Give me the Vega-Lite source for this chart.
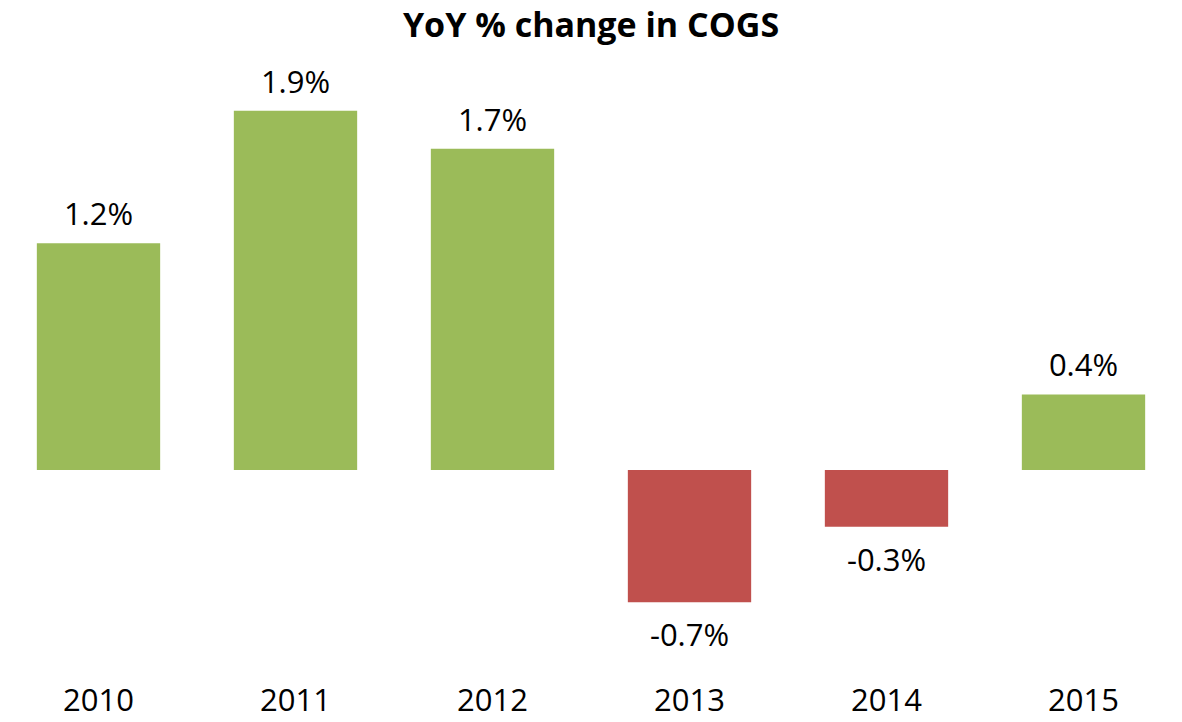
{
  "$schema": "https://vega.github.io/schema/vega-lite/v6.json",
  "description": "YoY % change in COGS, 2010-2015",
  "width": 1182,
  "height": 620,
  "autosize": {"type": "none"},
  "padding": {"top": 60, "left": 0, "right": 0, "bottom": 42},
  "title": {
    "text": "YoY % change in COGS",
    "font": "Open Sans",
    "fontSize": 34,
    "fontWeight": "bold",
    "color": "#000000",
    "anchor": "middle",
    "baseline": "alphabetic",
    "offset": -11
  },
  "data": {
    "values": [
      {"year": "2010", "v": 0.012},
      {"year": "2011", "v": 0.019},
      {"year": "2012", "v": 0.017},
      {"year": "2013", "v": -0.007},
      {"year": "2014", "v": -0.003},
      {"year": "2015", "v": 0.004}
    ]
  },
  "encoding": {
    "x": {
      "field": "year",
      "type": "ordinal",
      "title": null,
      "scale": {"paddingInner": 0.374, "paddingOuter": 0.187},
      "axis": {
        "domain": false,
        "ticks": false,
        "labelAngle": 0,
        "labelFont": "Open Sans",
        "labelFontSize": 31,
        "labelColor": "#000000",
        "labelPadding": 6
      }
    }
  },
  "layer": [
    {
      "mark": {"type": "bar"},
      "encoding": {
        "y": {
          "field": "v",
          "type": "quantitative",
          "scale": {"domain": [-0.01111, 0.02169], "nice": false, "zero": true},
          "axis": null
        },
        "color": {
          "condition": {"test": "datum.v < 0", "value": "#C0504D"},
          "value": "#9BBB59"
        }
      }
    },
    {
      "mark": {"type": "rule", "color": "#868686", "strokeWidth": 2},
      "encoding": {"y": {"datum": 0, "type": "quantitative"}}
    },
    {
      "transform": [{"filter": "datum.v >= 0"}],
      "mark": {
        "type": "text",
        "baseline": "alphabetic",
        "dy": -18,
        "font": "Open Sans",
        "fontSize": 31,
        "color": "#000000"
      },
      "encoding": {
        "y": {"field": "v", "type": "quantitative"},
        "text": {"field": "v", "type": "quantitative", "format": ".1%"}
      }
    },
    {
      "transform": [{"filter": "datum.v < 0"}],
      "mark": {
        "type": "text",
        "baseline": "alphabetic",
        "dy": 44,
        "font": "Open Sans",
        "fontSize": 31,
        "color": "#000000"
      },
      "encoding": {
        "y": {"field": "v", "type": "quantitative"},
        "text": {"field": "v", "type": "quantitative", "format": ".1%"}
      }
    }
  ],
  "config": {
    "view": {"stroke": null},
    "locale": {
      "number": {
        "decimal": ".",
        "thousands": ",",
        "grouping": [3],
        "currency": ["$", ""],
        "minus": "-"
      }
    }
  }
}
